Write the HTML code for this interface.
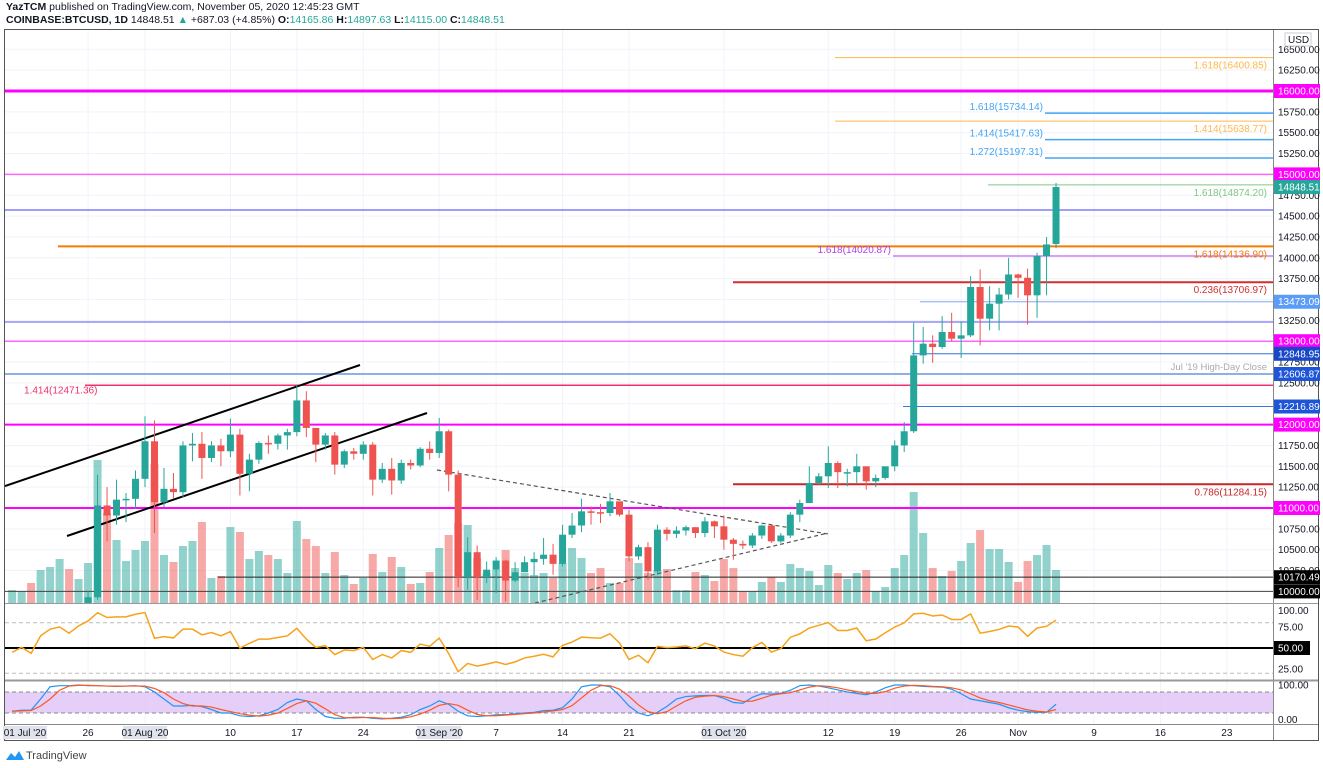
<!DOCTYPE html>
<html><head><meta charset="utf-8">
<style>
body{margin:0;background:#fff;width:1323px;height:768px;overflow:hidden;font-family:"Liberation Sans",sans-serif;}
#hdr{position:absolute;left:6px;top:1px;font-size:10.5px;color:#131722;line-height:13px;}
#hdr b{font-weight:bold}
.g{color:#26a69a}
svg{position:absolute;left:0;top:0}
</style></head><body>
<div id="hdr">
<div><b>YazTCM</b> published on TradingView.com, November 05, 2020 12:45:23 GMT</div>
<div><b>COINBASE:BTCUSD, 1D</b> 14848.51 <span class="g">▲</span> +687.03 (+4.85%) <b>O:</b><span class="g">14165.86</span> <b>H:</b><span class="g">14897.63</span> <b>L:</b><span class="g">14115.00</span> <b>C:</b><span class="g">14848.51</span></div>
</div>
<svg id="c" width="1323" height="768"></svg>
<script>
const closes=[9175,9210,9160,9390,9530,9610,9550,9700,9930,11030,10910,11100,11110,11350,
11800,11070,11230,11190,11750,11770,11600,11750,11680,11880,11410,11580,11780,11770,11870,11910,12290,11960,11760,11870,11520,11680,11650,11760,11340,11470,11330,11540,11510,11710,11660,
11920,11400,10170,10470,10170,10260,10370,10130,10230,10350,10390,10440,10330,10680,10790,10960,10950,10940,11080,10920,10420,10530,10240,10740,10690,10730,10770,10700,10840,10780,
10620,10570,10550,10670,10790,10600,10670,10920,11060,11300,11380,11540,11430,11430,11500,11320,11360,11500,11750,11920,12830,12970,12930,13110,13030,13070,13650,13270,13450,13560,13800,
13760,13550,14020,14160,14848.51];
const opens=[9150,9175,9210,9160,9390,9530,9610,9550,9700,9930,11030,10910,11100,11110,
11350,11800,11070,11230,11190,11750,11770,11600,11750,11680,11880,11410,11580,11780,11770,11870,11910,12290,11960,11760,11870,11520,11680,11650,11760,11340,11470,11330,11540,11510,11710,
11660,11920,11400,10170,10470,10170,10260,10370,10130,10230,10350,10390,10440,10330,10680,10790,10960,10950,10940,11080,10920,10420,10530,10240,10740,10690,10730,10770,10700,10840,
10780,10620,10570,10550,10670,10790,10600,10670,10920,11060,11300,11380,11540,11430,11430,11500,11320,11360,11500,11750,11920,12830,12970,12930,13110,13030,13070,13650,13270,13450,13560,
13800,13760,13550,14020,14165.86];
const highs=[9200,9230,9220,9420,9560,9650,9640,9730,10000,11400,11250,11340,11180,11450,
12100,12050,11480,11420,11800,11900,11910,11800,11830,12070,11950,11650,11800,11870,11890,11950,12470,12400,11950,11900,11910,11700,11720,11800,11790,11540,11600,11580,11580,11730,11800,
12080,11940,11450,10650,10550,10360,10410,10380,10350,10420,10470,10640,10570,10800,10940,11110,11020,11050,11180,11060,10980,10560,10590,10800,10770,10780,10790,10770,10890,10850,
10910,10640,10610,10700,10800,10800,10700,10950,11100,11500,11420,11740,11560,11470,11650,11420,11400,11490,11810,12030,13220,13170,13070,13300,13340,13240,13780,13860,13660,13640,14000,
13810,13870,14060,14250,14897.63];
const lows=[9100,9150,9130,9150,9370,9500,9420,9520,9650,9900,10600,10800,10830,10990,
11250,10700,11010,11110,11130,11560,11350,11550,11500,11610,11150,11200,11530,11650,11700,11700,11860,11850,11550,11700,11400,11480,11580,11580,11150,11300,11160,11290,11460,11490,11580,
11600,11200,10050,10020,9900,10100,9980,9880,10110,10230,10190,10320,10200,10300,10640,10710,10800,10820,10900,10900,10360,10380,10140,10200,10610,10640,10670,10640,10650,10640,
10500,10380,10510,10520,10630,10580,10580,10640,10830,11060,11280,11240,11240,11260,11300,11220,11250,11340,11440,11670,11900,12730,12740,12910,13000,12800,13050,12950,13130,13130,13500,
13520,13200,13280,13550,14115];
const volumes=[13,12,20,33,36,44,34,24,40,143,90,63,42,53,
62,139,48,41,57,62,81,25,27,76,71,44,52,48,44,30,82,64,57,30,51,28,19,25,49,31,46,36,19,20,31,
55,68,80,78,45,30,33,53,35,30,28,30,25,40,55,45,30,35,20,20,45,40,30,33,34,13,13,31,28,22,
44,35,12,12,21,26,21,39,35,32,18,38,30,24,30,33,12,16,35,48,111,70,35,27,32,42,60,73,54,54,41,
21,42,48,58,33];
const rsi=[44.9,50.8,43.7,64.5,72.4,75.1,67.6,76.3,82.2,92,86.3,87.1,87.1,90.2,
92.2,61.6,63.5,62,72.4,72.4,65.7,68.4,64.5,69.6,50,55.5,60.6,60.6,62.5,64.5,73.5,60.6,50.8,52.7,42.2,47.6,46.9,50.8,36.3,42.2,38.2,46.9,44.9,54.7,52,
61.8,43.3,21.8,31.6,28.4,30.8,33.5,30.4,33.5,38.2,40.2,42.5,39.4,53.1,57.1,62.9,62.2,61.8,66.9,56,36.3,41.4,32.4,52,50.4,51.2,52.5,49.2,55.7,52.5,
45.1,42.2,40.2,50.4,56.6,45.1,49.2,62.7,66.8,73.8,77,80.3,70.9,70.9,73.8,58.6,60.7,68,75,79.9,90.6,91.4,88.1,89.3,84,84,90.6,67.6,69.7,72.1,76.2,
75,63.9,73.8,75.8,83.2];
const stochK=[25,28,28,60,95,98,98,100,98,98,97,96,97,98,
95,80,60,40,40,42,38,30,20,20,12,10,12,20,30,50,60,55,30,10,5,5,8,8,5,3,5,8,15,30,40,
55,45,25,12,10,12,15,15,18,20,22,27,28,35,60,95,100,100,95,70,40,20,12,22,39,60,67,69,70,70,
62,50,48,65,75,74,76,85,98,100,97,92,86,80,76,72,80,92,100,100,98,96,95,94,88,75,60,55,50,45,35,
28,24,22,22,45];
const stochD=[25,26,27,40,60,85,97,99,99,98,97,97,97,97,
97,90,78,60,47,40,40,37,30,24,18,14,11,14,20,33,47,55,48,32,15,7,6,7,7,5,4,5,9,17,28,
42,47,42,28,16,12,12,14,16,18,20,23,26,30,41,63,85,98,98,88,68,43,24,18,24,40,55,65,68,70,
67,60,53,54,62,71,75,78,86,94,98,96,92,86,81,76,76,81,91,97,99,98,96,95,92,86,75,63,55,50,43,
36,29,25,23,30];
const priceTicks=[16500,16250,15750,15500,15250,14750,14500,14250,14000,13750,13250,12750,12500,11750,11500,11250,10750,10500,10250];
const timeLabels=["01 Jul '20","26","01 Aug '20","10","17","24","01 Sep '20","7","14","21","01 Oct '20","12","19","26","Nov","9","16","23"];
const timeDays=[-17,-6,0,9,16,23,31,37,44,51,61,72,79,86,92,100,107,114];

const S=document.getElementById('c');
const NS='http://www.w3.org/2000/svg';
function el(t,a,parent){const e=document.createElementNS(NS,t);for(const k in a)e.setAttribute(k,a[k]);(parent||S).appendChild(e);return e;}
const X0=145, DX=9.49, AUG1=14;
const xi=i=>X0+(i-AUG1)*DX;
const xd=d=>X0+d*DX;
const yP=p=>91+(16000-p)*0.0834;
const yR=v=>648-(v-50)*0.84;
const yS=v=>720-v*0.35;
const R=1273;

let fr=el('rect',{x:4.5,y:29.5,width:1314,height:711,fill:'#fff',stroke:'#555','stroke-width':1});

const grid=el('g',{stroke:'#f0f3fa','stroke-width':1});

for(let p=10000;p<=16500;p+=250){el('line',{x1:5,x2:R,y1:yP(p),y2:yP(p)},grid);}
timeDays.forEach(d=>{const x=xd(d);if(x>5)el('line',{x1:x,x2:x,y1:30,y2:724},grid);});
el('line',{x1:R+.5,x2:R+.5,y1:30,y2:740,stroke:'#888'});
el('line',{x1:5,x2:1318,y1:724.5,y2:724.5,stroke:'#888'});
el('line',{x1:5,x2:1318,y1:603.5,y2:603.5,stroke:'#999'});
el('line',{x1:5,x2:1318,y1:680.5,y2:680.5,stroke:'#999','stroke-width':2});

const defs=el('defs',{});
const cp=el('clipPath',{id:'pp'},defs);el('rect',{x:5,y:30,width:R-5,height:573},cp);
const pane=el('g',{'clip-path':'url(#pp)'});


const vg=el('g',{},pane);

volumes.forEach((v,i)=>{const up=closes[i]>=opens[i];
 const r=el('rect',{x:xi(i)-4,y:603-v,width:8,height:v,fill:up?'#26a69a':'#ef5350',opacity:.5},vg);
 });

const levels=[
 [16400.85,835,'#ffb74d',1,'1.618(16400.85)','r'],
 [16000,5,'#ff00ff',3,null],
 [15734.14,1045,'#42a5f5',1.5,'1.618(15734.14)','l'],
 [15638.77,835,'#ffb74d',1,'1.414(15638.77)','r'],
 [15417.63,1045,'#42a5f5',1.5,'1.414(15417.63)','l'],
 [15197.31,1045,'#42a5f5',1.5,'1.272(15197.31)','l'],
 [15000,5,'#ff66ff',1.5,null],
 [14874.2,988,'#81c784',1,'1.618(14874.20)','r'],
 [14573,5,'#3d3dff',1,null],
 [14136.9,58,'#f57c00',2,'1.618(14136.90)','r'],
 [14020.87,893,'#b040f0',1,'1.618(14020.87)','l'],
 [13706.97,733,'#d32f2f',2,'0.236(13706.97)','r'],
 [13473.09,920,'#7fa7f0',1,null],
 [13230,5,'#5050ff',1,null],
 [13000,5,'#ff66ff',1.5,null],
 [12848.95,912,'#3070e0',1,null],
 [12606.87,5,'#90aee8',2,'Jul \'19 High-Day Close','g'],
 [12471.36,85,'#f0306a',1.5,'1.414(12471.36)','L'],
 [12216.89,903,'#3a78e0',1,null],
 [12000,5,'#ff00ff',2,null],
 [11284.15,733,'#c62828',2,'0.786(11284.15)','r'],
 [11000,5,'#ff00ff',2,null],
 [10170.49,218,'#222',1,null],
 [10000,5,'#444',1,null]];
levels.forEach(l=>{const y=yP(l[0]);
 const ln=el('line',{x1:l[1],x2:R,y1:y,y2:y,stroke:l[2],'stroke-width':l[3]},pane);
 
 if(l[4]){let t;
  const col=l[5]=='g'?'#aaa':l[2];
  if(l[5]=='r')t=el('text',{x:1267,y:y+11,'text-anchor':'end',fill:col,'font-size':10});
  else if(l[5]=='g')t=el('text',{x:1267,y:y-4,'text-anchor':'end',fill:col,'font-size':9.5});
  else if(l[5]=='L')t=el('text',{x:24,y:y+8,fill:col,'font-size':10});
  else t=el('text',{x:l[1]-2,y:y-3,'text-anchor':'end',fill:col,'font-size':10});
  t.textContent=l[4];}
});

const tl=el('g',{},pane);
el('line',{x1:5,y1:486,x2:360,y2:365,stroke:'#000','stroke-width':2},tl);
el('line',{x1:67,y1:536,x2:427,y2:413,stroke:'#000','stroke-width':2},tl);
el('line',{x1:437,y1:470,x2:828,y2:534,stroke:'#555','stroke-width':1.2,'stroke-dasharray':'4,3'},tl);
el('line',{x1:535,y1:603,x2:828,y2:533,stroke:'#555','stroke-width':1.2,'stroke-dasharray':'4,3'},tl);

const cg=el('g',{},pane);
closes.forEach((c,i)=>{const o=opens[i],up=c>=o,col=up?'#26a69a':'#ef5350',x=xi(i);
 const g=el('g',{},cg);
 el('line',{x1:x,x2:x,y1:yP(highs[i]),y2:yP(lows[i]),stroke:col,'stroke-width':1},g);
 const t=yP(Math.max(o,c)),b=yP(Math.min(o,c));
 el('rect',{x:x-3.5,y:t,width:7,height:Math.max(1.5,b-t),fill:col},g);});

const rg=el('g',{});
[80,20].forEach(v=>el('line',{x1:5,x2:R,y1:yR(v),y2:yR(v),stroke:'#bbb','stroke-dasharray':'4,3'},rg));
el('line',{x1:5,x2:R,y1:yR(50),y2:yR(50),stroke:'#000','stroke-width':2},rg);
let rl=el('polyline',{points:rsi.map((v,i)=>xi(i)+','+yR(v)).join(' '),fill:'none',stroke:'#f7a21b','stroke-width':1.5},rg);


const sg=el('g',{});
el('rect',{x:5,y:yS(80),width:R-5,height:yS(20)-yS(80),fill:'#e1c6f7',opacity:.85},sg);
[80,20].forEach(v=>el('line',{x1:5,x2:R,y1:yS(v),y2:yS(v),stroke:'#888','stroke-dasharray':'4,3'},sg));
let kl=el('polyline',{points:stochK.map((v,i)=>xi(i)+','+yS(v)).join(' '),fill:'none',stroke:'#2196f3','stroke-width':1.2},sg);

let dl=el('polyline',{points:stochD.map((v,i)=>xi(i)+','+yS(v)).join(' '),fill:'none',stroke:'#ff5722','stroke-width':1.2},sg);


const ax=el('g',{'font-size':10,fill:'#131722'});
priceTicks.forEach(p=>{const t=el('text',{x:1278,y:yP(p)+3.5},ax);t.textContent=p.toFixed(2);
 });
const tags=[[16000,'#ff00ff'],[15000,'#ff00ff'],[14848.51,'#26a69a'],[13473.09,'#5b9cf6'],[13000,'#ff00ff'],[12848.95,'#1848c8'],[12606.87,'#1e55d8'],[12216.89,'#1e55d8'],[12000,'#ff00ff'],[11000,'#ff00ff'],[10170.49,'#000'],[10000,'#000']];
tags.forEach(tg=>{const y=yP(tg[0]);
 const g=el('g',{},ax);
 el('rect',{x:R+1,y:y-7,width:46,height:14,fill:tg[1]},g);
 const t=el('text',{x:1278,y:y+3.5,fill:'#fff'},g);t.textContent=tg[0].toFixed(2);});
const ub=el('rect',{x:1285,y:33,width:26,height:13,fill:'#fff',stroke:'#ccc'});
let ut=el('text',{x:1288,y:43,'font-size':10,fill:'#131722'});ut.textContent='USD';
[[100,yR(100)+8],[75,yR(75)+3.5],[25,yR(25)+3.5]].forEach(a=>{const t=el('text',{x:1278,y:a[1]},ax);t.textContent=a[0].toFixed(2);});
el('rect',{x:R+1,y:yR(50)-7,width:36,height:14,fill:'#000'},ax);
let t50=el('text',{x:1278,y:yR(50)+3.5,fill:'#fff'},ax);t50.textContent='50.00';
let s100=el('text',{x:1278,y:yS(100)+3.5},ax);s100.textContent='100.00';
let s0=el('text',{x:1278,y:yS(0)+3},ax);s0.textContent='0.00';

const ta=el('g',{'font-size':10,fill:'#131722'});
timeLabels.forEach((s,i)=>{let x=xd(timeDays[i]);if(x<30)x=25;
 if(s.length>4){el('rect',{x:x-22,y:726,width:44,height:13,fill:'#e0e3eb'},ta);}
 const t=el('text',{x:x,y:736,'text-anchor':'middle'},ta);t.textContent=s;
 });

const lg=el('g',{});
el('path',{d:'M6 760 l5 -7 l4 4 l4 -6 l5 9 z',fill:'#2196f3'},lg);
let lt=el('text',{x:26,y:759,'font-size':11,fill:'#444'},lg);lt.textContent='TradingView';
</script>
</body></html>
